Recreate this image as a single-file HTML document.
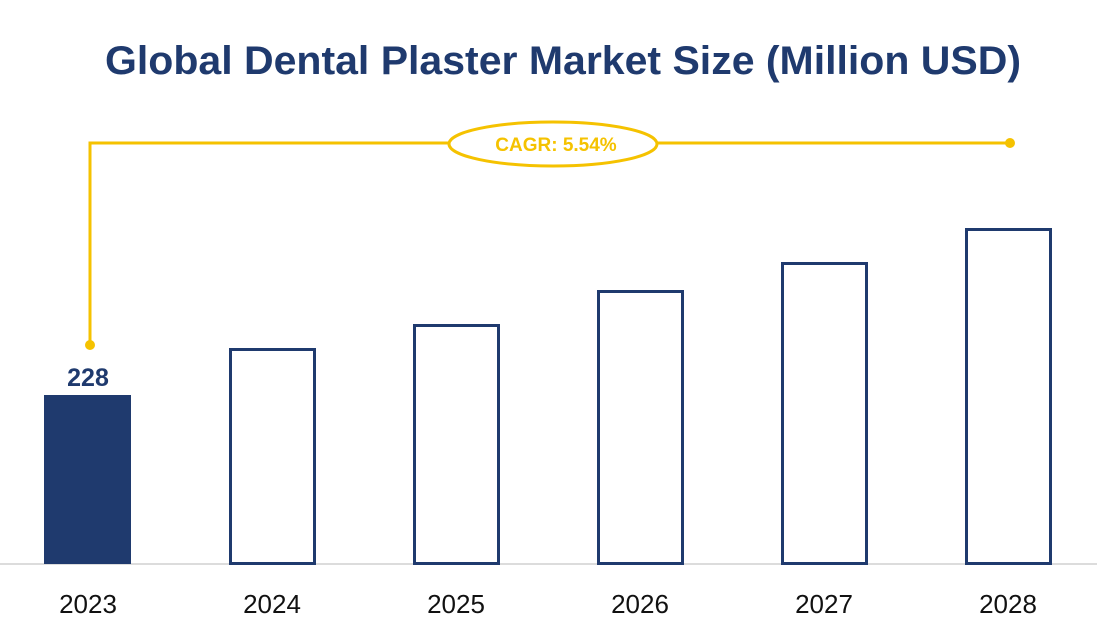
<!DOCTYPE html>
<html><head><meta charset="utf-8"><style>
body{margin:0;background:#fff;}
svg{display:block;}
</style></head><body>
<svg width="1097" height="641" viewBox="0 0 1097 641" xmlns="http://www.w3.org/2000/svg">
<text x="563" y="74" text-anchor="middle" font-family="Liberation Sans, sans-serif" font-weight="bold" font-size="40" fill="#1f3a6e" textLength="916" lengthAdjust="spacingAndGlyphs">Global Dental Plaster Market Size (Million USD)</text>
<line x1="0" y1="564" x2="1097" y2="564" stroke="#d0d0d0" stroke-width="1.5"/>
<rect x="44" y="395" width="87" height="169" fill="#1f3a6e"/>
<g fill="none" stroke="#1f3a6e" stroke-width="3">
<rect x="230.5" y="349.5" width="84" height="214"/>
<rect x="414.5" y="325.5" width="84" height="238"/>
<rect x="598.5" y="291.5" width="84" height="272"/>
<rect x="782.5" y="263.5" width="84" height="300"/>
<rect x="966.5" y="229.5" width="84" height="334"/>
</g>
<g font-family="Liberation Sans, sans-serif" font-size="26" fill="#111" text-anchor="middle">
<text x="88" y="613">2023</text>
<text x="272" y="613">2024</text>
<text x="456" y="613">2025</text>
<text x="640" y="613">2026</text>
<text x="824" y="613">2027</text>
<text x="1008" y="613">2028</text>
</g>
<text x="88" y="386" text-anchor="middle" font-family="Liberation Sans, sans-serif" font-weight="bold" font-size="25" fill="#1f3a6e">228</text>
<polyline points="90,345 90,143 1010,143" fill="none" stroke="#f5c200" stroke-width="3"/>
<circle cx="90" cy="345" r="5" fill="#f5c200"/>
<circle cx="1010" cy="143" r="5" fill="#f5c200"/>
<ellipse cx="553" cy="144" rx="104" ry="22" fill="#fff" stroke="#f5c200" stroke-width="3"/>
<text x="556" y="151" text-anchor="middle" font-family="Liberation Sans, sans-serif" font-weight="bold" font-size="19" fill="#f5c200">CAGR: 5.54%</text>
</svg>
</body></html>
